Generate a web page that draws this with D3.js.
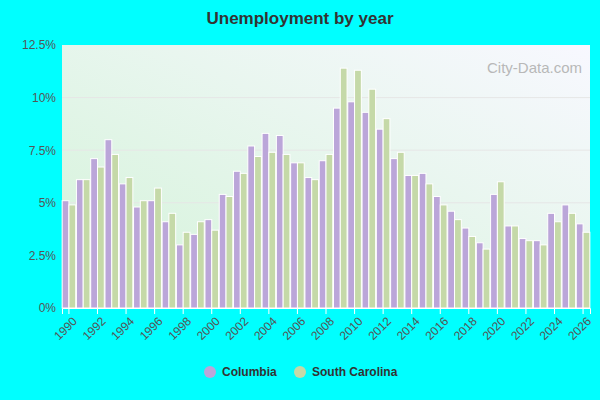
<!DOCTYPE html>
<html><head><meta charset="utf-8">
<script src="https://cdn.jsdelivr.net/npm/d3@7"></script>
<style>body{margin:0;background:#00ffff;font-family:Arial,"Liberation Sans",sans-serif;}</style>
</head><body><div id="chart"></div>
<script>
// Unemployment rate (%) by year
const years = d3.range(1990, 2027);
const columbia = [5.1,6.1,7.1,8.0,5.9,4.8,5.1,4.1,3.0,3.5,4.2,5.4,6.5,7.7,8.3,8.2,6.9,6.2,7.0,9.5,9.8,9.3,8.5,7.1,6.3,6.4,5.3,4.6,3.8,3.1,5.4,3.9,3.3,3.2,4.5,4.9,4.0];
const southCarolina = [4.9,6.1,6.7,7.3,6.2,5.1,5.7,4.5,3.6,4.1,3.7,5.3,6.4,7.2,7.4,7.3,6.9,6.1,7.3,11.4,11.3,10.4,9.0,7.4,6.3,5.9,4.9,4.2,3.4,2.8,6.0,3.9,3.2,3.0,4.1,4.5,3.6];
const yTicks = [0, 2.5, 5, 7.5, 10, 12.5];
const seriesNames = ['Columbia', 'South Carolina'];
const colors = ['#bba6d9', '#c5d9a8'];

const width = 600, height = 400;
const margin = {top: 45, right: 10, bottom: 92, left: 62};
const w = width - margin.left - margin.right;
const h = height - margin.top - margin.bottom;

const svg = d3.select('#chart').append('svg').attr('width', width).attr('height', height);

const defs = svg.append('defs');
const grad = defs.append('linearGradient').attr('id', 'bg')
    .attr('x1', '0%').attr('y1', '100%').attr('x2', '100%').attr('y2', '0%');
grad.append('stop').attr('offset', '0%').attr('stop-color', '#d3f3d8');
grad.append('stop').attr('offset', '100%').attr('stop-color', '#f8f8ff');

svg.append('text').attr('x', width / 2).attr('y', 24).attr('text-anchor', 'middle')
    .style('font-size', '17px').style('font-weight', 'bold').style('fill', '#333')
    .text('Unemployment by year');

const g = svg.append('g').attr('transform', `translate(${margin.left},${margin.top})`);
g.append('rect').attr('width', w).attr('height', h).attr('fill', 'url(#bg)');

const x = d3.scaleBand().domain(years).range([0, w]).paddingInner(0.05).paddingOuter(0.01);
const x1 = d3.scaleBand().domain([0, 1]).range([0, x.bandwidth()]);
const y = d3.scaleLinear().domain([0, 12.5]).range([h, 0]);

g.selectAll('.grid').data(yTicks.slice(1, -1)).join('line')
    .attr('x1', 0).attr('x2', w).attr('y1', d => y(d)).attr('y2', d => y(d))
    .attr('stroke', '#e6e6e6');

g.append('text').attr('x', w - 8).attr('y', 28).attr('text-anchor', 'end')
    .style('font-size', '15px').style('fill', '#b8b8b8').text('City-Data.com');

[columbia, southCarolina].forEach((vals, s) => {
    g.selectAll('.b' + s).data(vals).join('rect')
        .attr('x', (d, i) => x(years[i]) + x1(s))
        .attr('width', x1.bandwidth())
        .attr('y', d => y(d)).attr('height', d => h - y(d))
        .attr('fill', colors[s]).attr('stroke', '#fff').attr('stroke-width', 1);
});

const yAxis = g.append('g').call(d3.axisLeft(y).tickValues(yTicks)
    .tickFormat(d => d + '%').tickSize(0).tickPadding(6));
yAxis.select('.domain').remove();
yAxis.selectAll('text').style('font-size', '12px').style('fill', '#555');

const xAxis = g.append('g').attr('transform', `translate(0,${h})`)
    .call(d3.axisBottom(x).tickValues(years.filter(d => d % 2 === 0)).tickSize(6));
xAxis.select('.domain').attr('stroke', '#fff');
xAxis.selectAll('line').attr('stroke', '#fff');
xAxis.selectAll('text').style('font-size', '12px').style('fill', '#555')
    .attr('text-anchor', 'end').attr('dx', '-0.3em').attr('dy', '0.6em')
    .attr('transform', 'rotate(-45)');

const legend = svg.append('g').attr('transform', 'translate(0,372)');
const lx = [210, 300];
seriesNames.forEach((n, i) => {
    legend.append('circle').attr('cx', lx[i]).attr('cy', 0).attr('r', 6).attr('fill', colors[i]);
    legend.append('text').attr('x', lx[i] + 12).attr('y', 4)
        .style('font-size', '12px').style('font-weight', 'bold').style('fill', '#333').text(n);
});
</script></body></html>
